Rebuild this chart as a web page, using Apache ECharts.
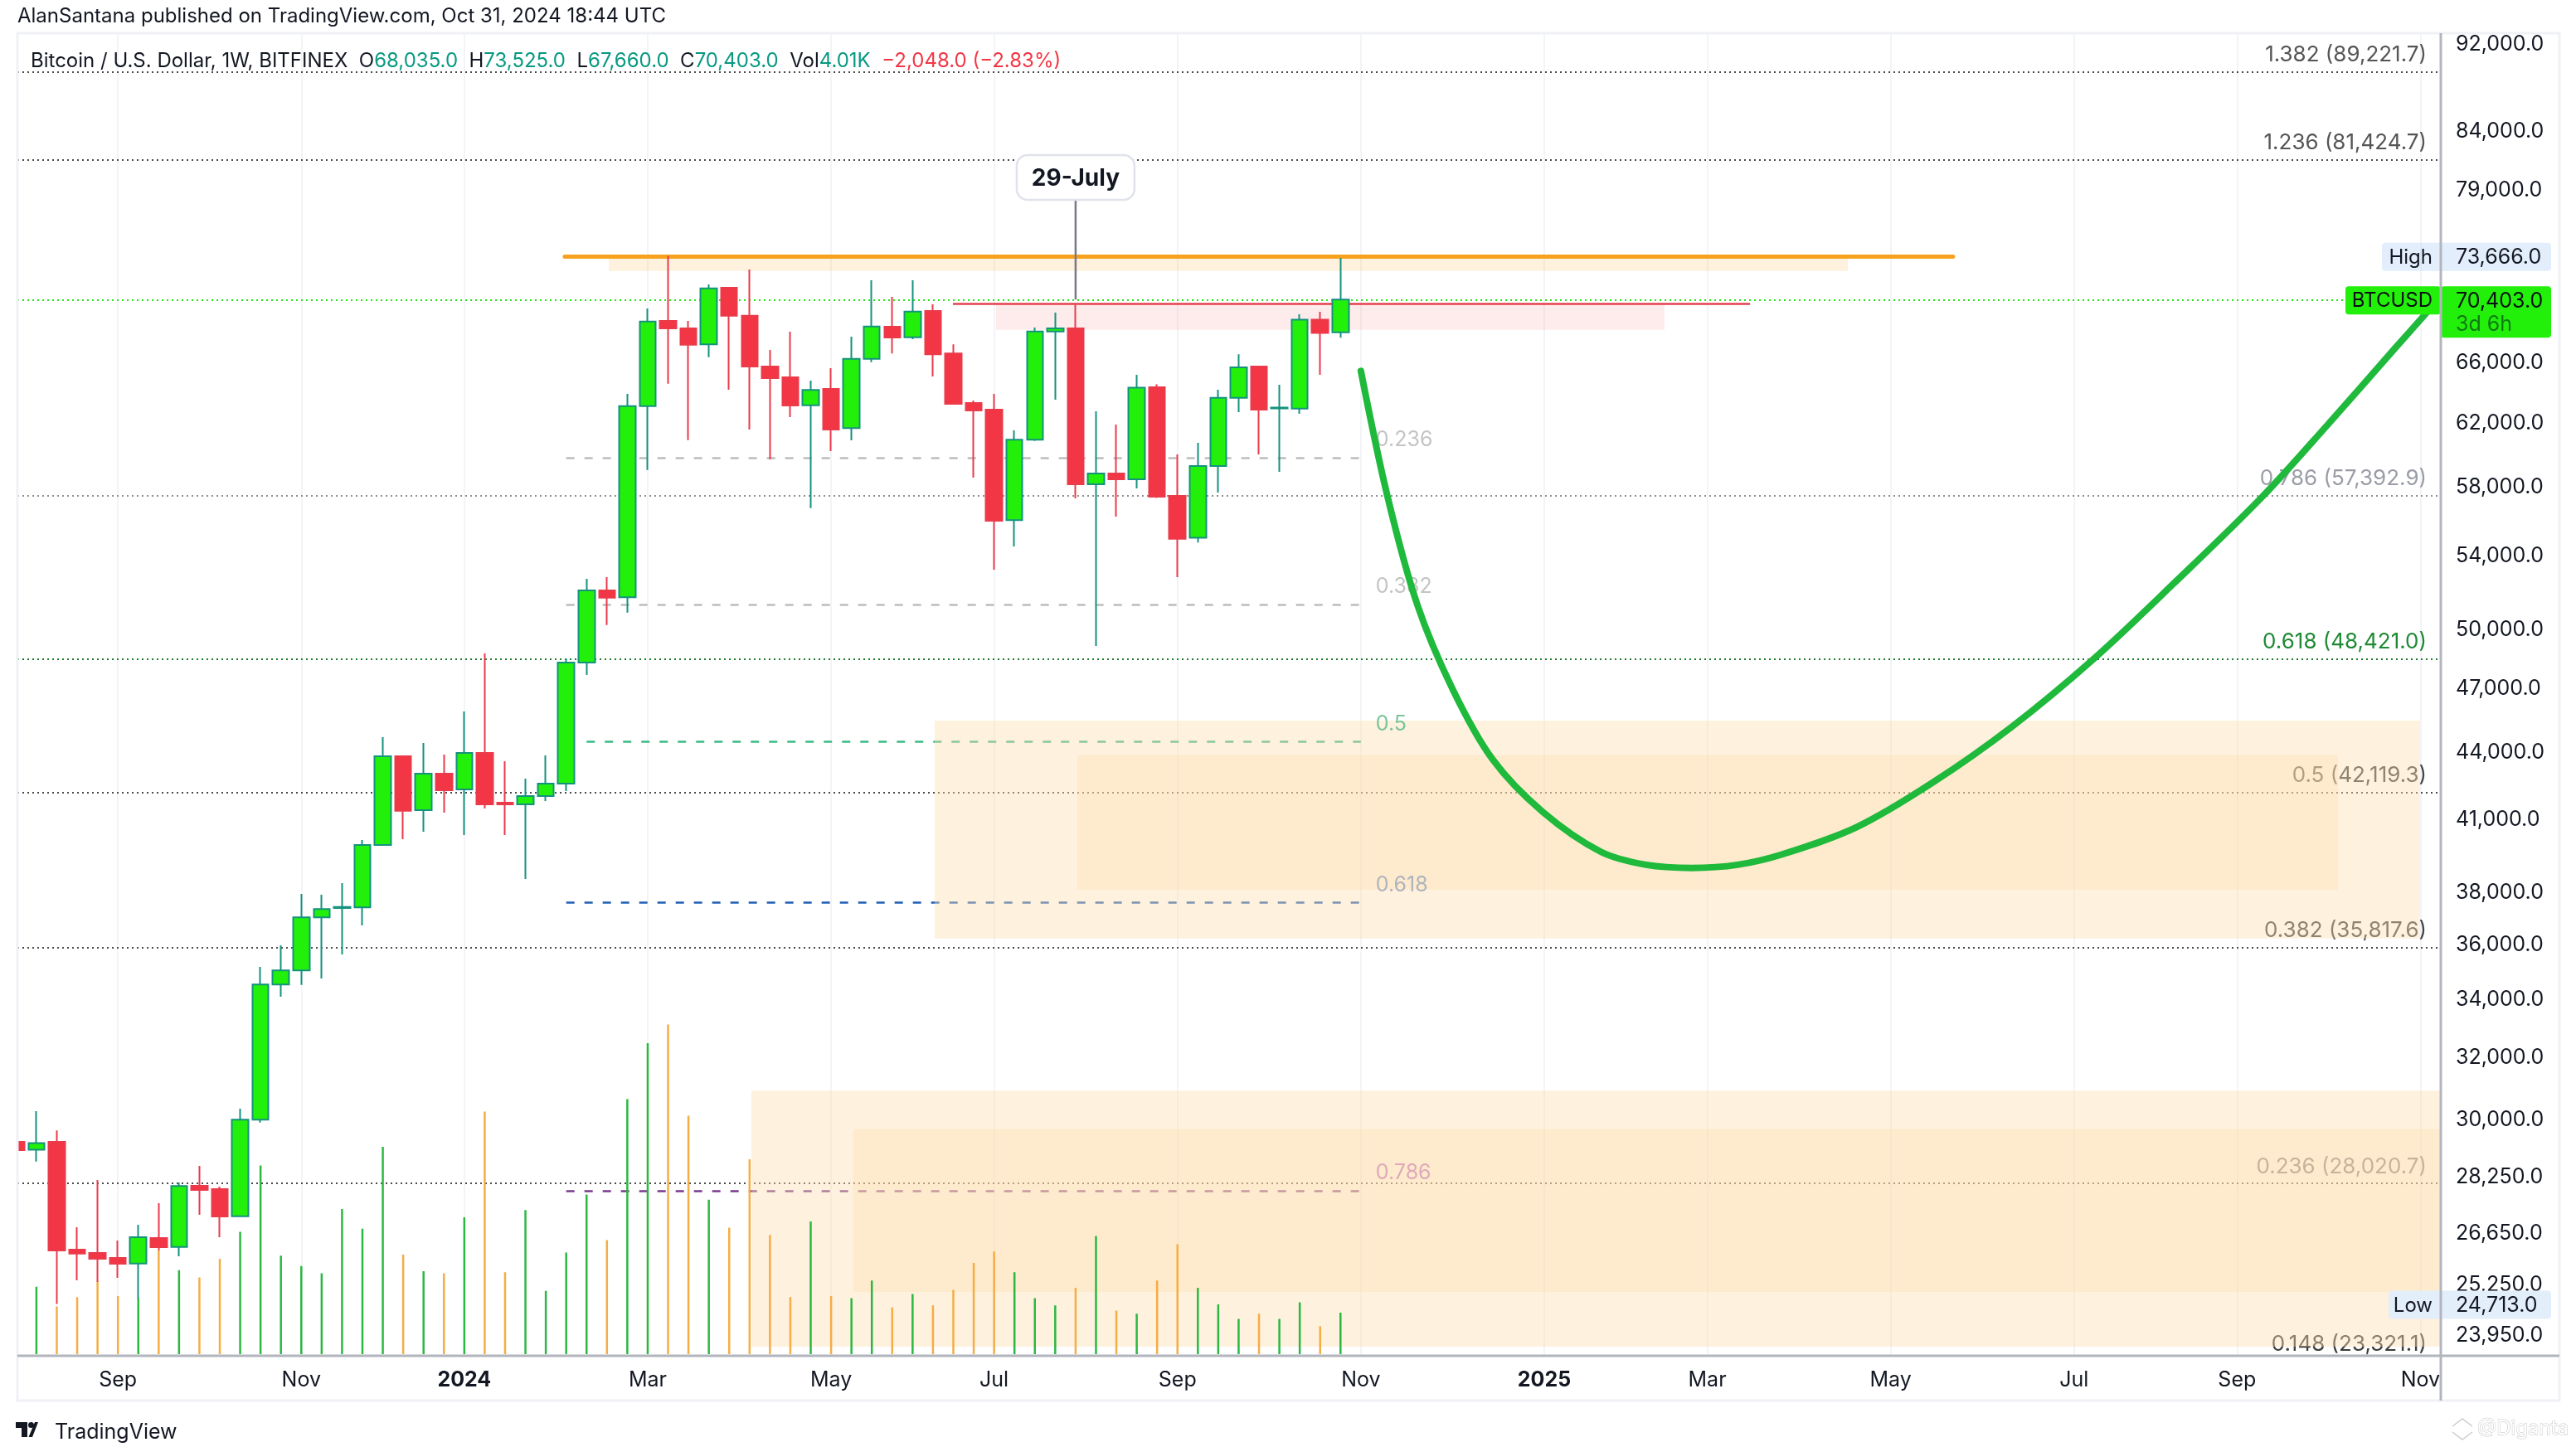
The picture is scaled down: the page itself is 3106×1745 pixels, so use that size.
<!DOCTYPE html>
<html>
<head>
<meta charset="utf-8">
<title>BTCUSD 1W</title>
<style>
  html, body { margin: 0; padding: 0; background: #fff; }
  #main { width: 3106px; height: 1745px; }
</style>
<script src="https://cdn.jsdelivr.net/npm/echarts@6/dist/echarts.min.js"></script>
</head>
<body>
<div id="main"></div>
<script>
// x axis counts weeks, week 0 = 7 Aug 2023. first candle is cut by the left edge
var firstCandleWeek = -1;

var opens = [29264, 29021, 29264, 26153, 26063, 25927, 25778, 26472, 26229, 27954, 27858, 27081, 29948, 34480, 34990, 36978, 37340, 37360, 39876, 43737, 41348, 42953, 42252, 43890, 41673, 41601, 41962, 42510, 48227, 51990, 51622, 63006, 68852, 68321, 67190, 71280, 69231, 65659, 64923, 63058, 64142, 61573, 66190, 68439, 67693, 69572, 66554, 63208, 62772, 55940, 60837, 68106, 68321, 58075, 58731, 58376, 64253, 57376, 54925, 59188, 63551, 65659, 62850, 62840, 68939, 68035];
var closes = [29012, 29222, 26131, 26047, 25906, 25772, 26495, 26222, 27947, 27834, 27074, 29948, 34480, 34990, 36978, 37299, 37382, 39876, 43737, 41324, 42953, 42216, 43890, 41601, 41601, 41962, 42510, 48227, 51990, 51604, 63006, 68810, 68321, 67169, 71233, 69231, 65659, 64867, 63041, 64068, 61487, 66190, 68457, 67676, 69529, 66496, 63153, 62720, 55908, 60837, 68106, 68321, 58075, 58731, 58376, 64229, 57326, 54870, 59188, 63551, 65604, 62772, 62903, 68939, 68000, 70403];
var lows = [29012, 28671, 24713, 25331, 25288, 25397, 24855, 26131, 25972, 27121, 26495, 27074, 29860, 34043, 34464, 34696, 35578, 36666, 39876, 40116, 40431, 41243, 40291, 41421, 40291, 38487, 41745, 42180, 47602, 50154, 50806, 58947, 64491, 60814, 66304, 64087, 61487, 59603, 62286, 56649, 60120, 60793, 65959, 66554, 67558, 64980, 63153, 58476, 53125, 54433, 60752, 63426, 57228, 49067, 56148, 57821, 57247, 52714, 54650, 57575, 62610, 59911, 58832, 62500, 65095, 67660];
var highs = [29264, 30217, 29612, 26772, 28123, 26404, 26841, 27452, 28051, 28539, 27930, 30294, 35119, 35918, 37894, 37862, 38321, 40081, 44615, 43775, 44348, 43816, 45830, 48685, 43508, 42730, 43775, 48435, 52626, 52717, 63811, 69754, 73666, 68852, 71526, 71280, 72640, 66806, 68086, 64699, 65545, 67734, 71832, 70601, 71832, 70056, 67200, 63370, 63811, 61432, 68381, 69454, 70026, 62664, 61806, 65090, 64445, 59911, 60640, 64087, 66496, 65659, 64420, 69331, 69516, 73525];
// volume in K
var volumes = [4.0, 6.5, 4.6, 5.5, 7.0, 5.6, 5.4, 10.0, 8.1, 7.4, 9.2, 11.8, 18.2, 9.5, 8.5, 7.8, 14.0, 12.1, 20.0, 9.6, 8.0, 7.8, 13.2, 23.4, 7.9, 13.9, 6.1, 9.8, 15.4, 11.0, 24.6, 30.0, 31.8, 23.0, 14.9, 12.2, 18.8, 11.5, 5.5, 12.8, 5.6, 5.4, 7.1, 4.5, 5.8, 4.7, 6.2, 8.8, 9.9, 7.9, 5.4, 4.7, 6.4, 11.4, 4.2, 3.9, 7.1, 10.6, 6.4, 4.8, 3.4, 3.9, 3.4, 5.0, 2.7, 4.0];

var yTicks = [92000, 84000, 79000, 66000, 62000, 58000, 54000, 50000, 47000, 44000, 41000, 38000, 36000, 34000, 32000, 30000, 28250, 26650, 25250, 23950];
var xTickWeeks = [4, 13, 21, 30, 39, 47, 56, 65, 74, 82, 91, 100, 108, 117];
var xTickLabels = ['Sep', 'Nov', '2024', 'Mar', 'May', 'Jul', 'Sep', 'Nov', '2025', 'Mar', 'May', 'Jul', 'Sep', 'Nov'];

// long fib levels
var fibPrices = [89221.7, 81424.7, 57392.9, 48421.0, 42119.3, 35817.6, 28020.7];
var fibLabels = ['1.382 (89,221.7)', '1.236 (81,424.7)', '0.786 (57,392.9)', '0.618 (48,421.0)', '0.5 (42,119.3)', '0.382 (35,817.6)', '0.236 (28,020.7)'];
var fibColors = ['#555555', '#555555', '#9a9da6', '#1e8a34', '#444444', '#444444', '#787b86'];

// short fib levels
var shortFibPrices = [59705, 51236, 44397, 37566, 27809];
var shortFibLabels = ['0.236', '0.382', '0.5', '0.618', '0.786'];
var shortFibColors = ['#bdbdbd', '#bdbdbd', '#3bba87', '#1f5fb5', '#7b3a8f'];
var shortFibTextColors = ['#c4c4c4', '#c4c4c4', '#7cc49a', '#aeb4bd', '#dfa9b8'];
var shortFibStart = [26, 26, 27, 26, 26];
var shortFibEnd = 65;

// projected curve
var curveWeeks = [65.0, 66.29, 67.77, 69.52, 71.47, 73.92, 76.76, 79.0, 81.24, 83.48, 85.72, 89.34, 93.05, 96.94, 100.91, 104.88, 109.24, 112.45, 115.75, 117.6];
var curvePrices = [65352, 57425, 51221, 46871, 43589, 41278, 39601, 39060, 38933, 39060, 39499, 40627, 42547, 45097, 48360, 52354, 57326, 61800, 66917, 69937];

// shaded zones: start week, end week, top price, bottom price
var zoneStart = [28.09, 47.09, 44.08, 51.08, 35.09, 40.09];
var zoneEnd = [88.9, 79.9, 116.98, 112.95, 118, 118];
var zoneTop = [73666, 70075, 45394, 43787, 30865, 29656];
var zoneBottom = [72537, 68220, 36175, 38068, 23639, 25027];
var zoneColors = ['rgba(247,161,30,0.15)', 'rgba(242,54,69,0.1)', 'rgba(253,220,175,0.41)', 'rgba(255,218,165,0.3)', 'rgba(253,220,175,0.41)', 'rgba(255,218,165,0.3)'];

var highPrice = 73666;
var lastPrice = 70403;
var lowPrice = 24713;
var resistancePrice = 70075;
var pinWeek = 51;

var font = 'Inter';
var textColor = '#131722';

function fmtPrice(v) {
  return v.toLocaleString('en-US', { minimumFractionDigits: 1, maximumFractionDigits: 1 });
}

var candleData = [];
var volumeData = [];
for (var i = 0; i < opens.length; i++) {
  var w = firstCandleWeek + i;
  candleData.push([w, opens[i], closes[i], lows[i], highs[i]]);
  volumeData.push({
    value: [w, volumes[i]],
    itemStyle: { color: closes[i] >= opens[i] ? '#2bb842' : '#f5ad45' }
  });
}

var curveData = curveWeeks.map(function(wk, k) {
  return [wk, curvePrices[k]];
});

function dotted(value, color) {
  return {
    yAxis: value,
    lineStyle: { color: color, type: [2, 4], width: 2, opacity: 1 }
  };
}

var levelLines = fibPrices.map(function(p, k) {
  return dotted(p, k === 3 ? '#1e7a30' : (k === 2 ? '#8f8f8f' : '#4a4a4a'));
});
levelLines.push(dotted(lastPrice, '#22e614'));

shortFibPrices.forEach(function(p, k) {
  levelLines.push([
    {
      xAxis: shortFibStart[k],
      yAxis: p,
      lineStyle: { color: shortFibColors[k], type: [10, 12], width: 2.5, opacity: 1 }
    },
    { xAxis: shortFibEnd, yAxis: p }
  ]);
});

// resistance lines
levelLines.push([
  { xAxis: 25.93, yAxis: highPrice, lineStyle: { color: '#f7a21e', type: 'solid', width: 5, cap: 'round', opacity: 1 } },
  { xAxis: 94.06, yAxis: highPrice }
]);
levelLines.push([
  { xAxis: 44.98, yAxis: resistancePrice, lineStyle: { color: '#e5404f', type: 'solid', width: 2.5, opacity: 1 } },
  { xAxis: 84.1, yAxis: resistancePrice }
]);

var zones = zoneStart.map(function(s, k) {
  return [
    { xAxis: s, yAxis: zoneTop[k], itemStyle: { color: zoneColors[k] } },
    { xAxis: zoneEnd[k], yAxis: zoneBottom[k] }
  ];
});

var chartDom = document.getElementById('main');
var myChart = echarts.init(chartDom);

var option = {
  animation: false,
  backgroundColor: '#ffffff',
  grid: { left: 21, right: 163, top: 40, bottom: 110, containLabel: false },
  xAxis: {
    type: 'value',
    min: -0.932,
    max: 118,
    axisLine: { show: false },
    axisTick: { show: false, customValues: xTickWeeks },
    splitLine: { show: true, lineStyle: { color: '#f3f4f7', width: 2 } },
    axisLabel: {
      customValues: xTickWeeks,
      margin: 17,
      fontFamily: font,
      fontSize: 25,
      color: textColor,
      formatter: function(v) {
        var s = xTickLabels[xTickWeeks.indexOf(v)];
        return /^\d+$/.test(s) ? '{b|' + s + '}' : s;
      },
      rich: { b: { fontFamily: font, fontSize: 25, fontWeight: 'bold', color: textColor } }
    }
  },
  yAxis: [
    {
      type: 'log',
      logBase: 10,
      position: 'right',
      min: 23414,
      max: 92935,
      axisLine: { show: false },
      axisTick: { show: false },
      splitLine: { show: false },
      axisLabel: {
        customValues: yTicks,
        margin: 18,
        align: 'left',
        fontFamily: font,
        fontSize: 25,
        color: textColor,
        formatter: function(v) {
          return '{v|' + fmtPrice(v) + '}';
        },
        // text sits a little under the tick position
        rich: { v: { fontFamily: font, fontSize: 25, color: textColor, padding: [4, 0, 0, 0] } }
      }
    },
    { type: 'value', show: false, min: -0.16, max: 127.44, splitLine: { show: false } }
  ],
  series: [
    {
      name: 'levels',
      type: 'line',
      data: [],
      z: 2,
      markLine: { silent: true, z: 2, symbol: ['none', 'none'], label: { show: false }, animation: false, data: levelLines }
    },
    {
      name: 'zones',
      type: 'line',
      data: [],
      z: 3,
      markArea: { silent: true, z: 3, animation: false, data: zones }
    },
    {
      name: 'Vol',
      type: 'bar',
      yAxisIndex: 1,
      barWidth: 2.5,
      clip: true,
      z: 4,
      data: volumeData
    },
    {
      name: 'BTCUSD',
      type: 'candlestick',
      barWidth: 20,
      clip: true,
      z: 5,
      itemStyle: {
        color: '#22f00a',
        color0: '#f23645',
        borderColor: '#14927e',
        borderColor0: '#ea3b4b',
        borderWidth: 2
      },
      data: candleData
    },
    {
      name: 'projection',
      type: 'line',
      smooth: 0.33,
      symbol: 'none',
      z: 6,
      lineStyle: { color: '#1fb93c', width: 8, cap: 'round' },
      data: curveData
    }
  ]
};

option && myChart.setOption(option);

// everything below hangs off the axes, so read pixels from the chart
function py(price) {
  return myChart.convertToPixel({ yAxisIndex: 0 }, price);
}
function px(week) {
  return myChart.convertToPixel({ xAxisIndex: 0 }, week);
}

var G_RIGHT = 2943;
var FRAME_R = 3086;
var FRAME_B = 1689;
var AXIS_Y = 1635;
var LABEL_X = 2961;

function text(str, x, y, o) {
  o = o || {};
  return {
    type: 'text',
    z: o.z == null ? 10 : o.z,
    silent: true,
    style: {
      text: str,
      x: x,
      y: y + 2,
      fill: o.color || textColor,
      fontFamily: o.family || font,
      fontSize: o.size || 25,
      fontWeight: o.weight || 'normal',
      align: o.align || 'left',
      textAlign: o.align || 'left',
      verticalAlign: 'middle',
      textVerticalAlign: 'middle',
      stroke: o.stroke,
      lineWidth: o.lineWidth
    }
  };
}

function box(x, y, w, h, fill, z, r) {
  return {
    type: 'rect',
    z: z == null ? 10 : z,
    silent: true,
    shape: { x: x, y: y, width: w, height: h, r: r || 0 },
    style: { fill: fill }
  };
}

var gfx = [];

// the candle cut by the left edge must not stick out of the frame
gfx.push(box(0, 42, 20, FRAME_B - 42, '#ffffff', 8));

// frame and price / time axis lines
gfx.push({
  type: 'rect', z: 9, silent: true,
  shape: { x: 21, y: 40, width: FRAME_R - 21, height: FRAME_B - 40 },
  style: { fill: 'none', stroke: '#f0f1f5', lineWidth: 3 }
});
gfx.push({ type: 'line', z: 9, silent: true, shape: { x1: 21, y1: AXIS_Y, x2: FRAME_R, y2: AXIS_Y }, style: { stroke: '#b2b5be', lineWidth: 3 } });
gfx.push({ type: 'line', z: 9, silent: true, shape: { x1: G_RIGHT, y1: 40, x2: G_RIGHT, y2: FRAME_B }, style: { stroke: '#b2b5be', lineWidth: 3 } });

// header texts
gfx.push(text('AlanSantana published on TradingView.com, Oct 31, 2024 18:44 UTC', 21, 18, { size: 24 }));
gfx.push({
  type: 'text', z: 10, silent: true,
  style: {
    x: 37, y: 74, verticalAlign: 'middle', textVerticalAlign: 'middle',
    fontFamily: font, fontSize: 24, fill: textColor,
    text: 'Bitcoin / U.S. Dollar, 1W, BITFINEX  O{g|68,035.0}  H{g|73,525.0}  L{g|67,660.0}  C{g|70,403.0}  Vol{g|4.01K}  {r|\u22122,048.0 (\u22122.83%)}',
    rich: {
      g: { fill: '#089981', fontFamily: font, fontSize: 24 },
      r: { fill: '#f23645', fontFamily: font, fontSize: 24 }
    }
  }
});

// long fib labels sit under the shaded zones
fibLabels.forEach(function(s, k) {
  gfx.push(text(s, 2926, py(fibPrices[k]) - 22.5, { size: 26, align: 'right', color: fibColors[k], z: 1 }));
});
gfx.push(text('0.148 (23,321.1)', 2926, py(23321.1) - 20.5, { size: 26, align: 'right', color: '#3c3c3c', z: 1 }));

// short fib labels
shortFibLabels.forEach(function(s, k) {
  gfx.push(text(s, px(shortFibEnd) + 18, py(shortFibPrices[k]) - 23, { color: shortFibTextColors[k], z: 5 }));
});

// 29-July callout
var pinX = px(pinWeek);
gfx.push({ type: 'line', z: 8, silent: true, shape: { x1: pinX, y1: 241, x2: pinX, y2: py(lastPrice) }, style: { stroke: '#787b86', lineWidth: 2.5 } });
gfx.push({
  type: 'rect', z: 9, silent: true,
  shape: { x: pinX - 71, y: 187, width: 142, height: 54, r: 13 },
  style: { fill: '#ffffff', stroke: '#e0e3eb', lineWidth: 2.5 }
});
gfx.push(text('29-July', pinX, 214, { align: 'center', weight: 'bold', size: 28 }));

// price badges
var highY = py(highPrice);
gfx.push(box(2872, highY - 16, 204, 34, 'rgba(187,214,248,0.42)', 8, 4));
gfx.push(text('High', 2933, highY, { align: 'right', size: 24 }));
gfx.push(text(fmtPrice(highPrice), LABEL_X, highY));

var lastY = py(lastPrice);
gfx.push(box(2828, lastY - 16, 115, 34, '#22f00a', 8, 4));
gfx.push(box(G_RIGHT, lastY - 16, 133, 62, '#22f00a', 8, 4));
gfx.push(text('BTCUSD', 2933, lastY, { align: 'right', color: '#0b0f14', size: 24 }));
gfx.push(text(fmtPrice(lastPrice), LABEL_X, lastY, { color: '#0b0f14' }));
gfx.push(text('3d 6h', LABEL_X, lastY + 28, { color: '#0f7a12' }));

var lowY = py(lowPrice);
gfx.push(box(2880, lowY - 16, 196, 34, '#e3eefb', 8, 4));
gfx.push(text('Low', 2933, lowY, { align: 'right', size: 24 }));
gfx.push(text(fmtPrice(lowPrice), LABEL_X, lowY));

// TradingView logo
gfx.push({ type: 'polygon', z: 10, silent: true, shape: { points: [[19, 1715], [33, 1715], [33, 1733], [26, 1733], [26, 1722], [19, 1722]] }, style: { fill: textColor } });
gfx.push({ type: 'circle', z: 10, silent: true, shape: { cx: 37.5, cy: 1718.5, r: 3.5 }, style: { fill: textColor } });
gfx.push({ type: 'polygon', z: 10, silent: true, shape: { points: [[42, 1715], [46, 1715], [39, 1733], [34.5, 1733]] }, style: { fill: textColor } });
gfx.push(text('TradingView', 66, 1725, { size: 25 }));

// watermark
gfx.push({ type: 'polyline', z: 10, silent: true, shape: { points: [[2957, 1720], [2969, 1711], [2981, 1720]] }, style: { fill: 'none', stroke: '#cccccc', lineWidth: 1.5 } });
gfx.push({ type: 'polyline', z: 10, silent: true, shape: { points: [[2957, 1727], [2969, 1736], [2981, 1727]] }, style: { fill: 'none', stroke: '#cccccc', lineWidth: 1.5 } });
gfx.push(text('@Diganta', 2987, 1721, { size: 24, color: '#ffffff', stroke: '#c4c4c4', lineWidth: 1 }));

myChart.setOption({ graphic: gfx });
</script>
</body>
</html>
